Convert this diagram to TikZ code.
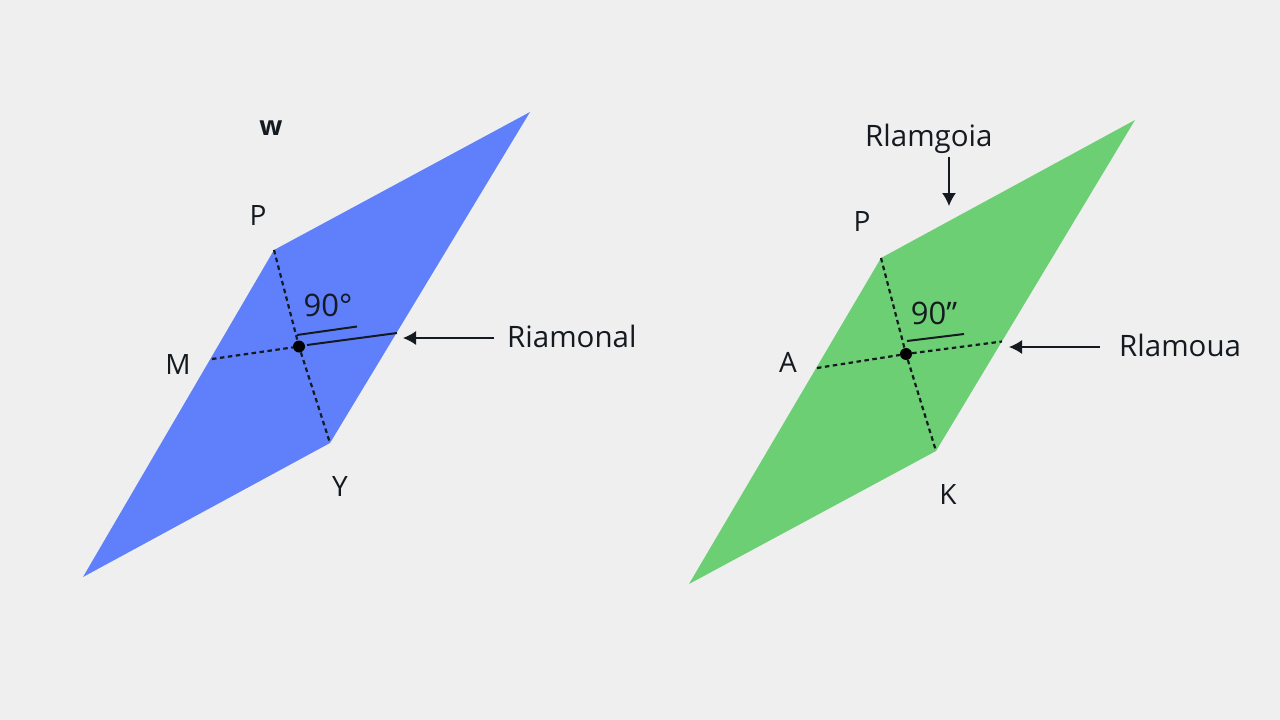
\documentclass[tikz,border=0pt]{standalone}
\usepackage{fontspec}
\setmainfont{Open Sans}
\definecolor{bgc}{HTML}{EFEFEF}
\definecolor{bluef}{HTML}{5F80FA}
\definecolor{greenf}{HTML}{6CCF74}
\definecolor{inkc}{HTML}{151A20}
\usetikzlibrary{arrows.meta}
\tikzset{
  lbl/.style={text=inkc,font=\fontsize{29.5}{32}\selectfont,inner sep=0pt},
  vlbl/.style={text=inkc,font=\fontsize{28}{30}\selectfont,inner sep=0pt},
  ang/.style={text=inkc,font=\fontsize{31}{34}\selectfont,inner sep=0pt},
  diag/.style={draw=inkc,line width=2.2pt,dash pattern=on 4.5pt off 3.5pt},
  solidl/.style={draw=inkc,line width=2pt},
  pointer/.style={draw=inkc,line width=1.4pt,-{Latex[length=13pt,width=14pt]}},
  ctr/.style={circle,fill=black,inner sep=0pt,minimum size=12pt},
}
\begin{document}
\begin{tikzpicture}[x=1pt,y=-1pt]
\useasboundingbox (0,0) rectangle (1280,720);
\fill[bgc] (0,0) rectangle (1280,720);
% blue rhombus
\coordinate (b1) at (530,112);
\coordinate (b2) at (274,250);
\coordinate (b3) at (83,577);
\coordinate (b4) at (330,443);
\fill[bluef] (b1)--(b2)--(b3)--(b4)--cycle;
\node[ctr] (bc) at (299,346.5) {};
\coordinate (bl) at (212,359);
\coordinate (br) at (397,333);
\coordinate (bs) at (307,345);
\coordinate (bt1) at (297,335);
\coordinate (bt2) at (357,326.5);
\coordinate (ba1) at (494,338);
\coordinate (ba2) at (403,338);
\draw[diag] (b2)--(bc)--(b4);
\draw[diag] (bl)--(bc);
\draw[solidl] (bs)--(br);
\draw[solidl] (bt1)--(bt2);
\draw[pointer] (ba1)--(ba2);
\node[vlbl,font=\fontsize{27}{30}\selectfont\bfseries] (w) at (271,128) {w};
\node[vlbl] (bp) at (258,216) {P};
\node[vlbl] (bm) at (178,365) {M};
\node[vlbl] (by) at (340,487) {Y};
\node[ang] (b90) at (328,305) {90°};
\node[lbl,anchor=west] (briam) at (507,336) {Riamonal};
% green rhombus
\coordinate (g1) at (1135,120);
\coordinate (g2) at (881,258);
\coordinate (g3) at (689,584);
\coordinate (g4) at (936,451);
\fill[greenf] (g1)--(g2)--(g3)--(g4)--cycle;
\node[ctr] (gc) at (906,354) {};
\coordinate (gl) at (817,368);
\coordinate (gr) at (1002,341.5);
\coordinate (gt1) at (907,341);
\coordinate (gt2) at (964,334);
\coordinate (ga1) at (1100,347);
\coordinate (ga2) at (1009,347);
\coordinate (gd1) at (949,157);
\coordinate (gd2) at (949,206);
\draw[diag] (g2)--(gc)--(g4);
\draw[diag] (gl)--(gc)--(gr);
\draw[solidl] (gt1)--(gt2);
\draw[pointer] (ga1)--(ga2);
\draw[pointer] (gd1)--(gd2);
\node[vlbl] (gp) at (862,222) {P};
\node[vlbl] (ga) at (788,362) {A};
\node[vlbl] (gk) at (948,495) {K};
\node[ang] (g90) at (934,313) {90"};
\node[lbl,anchor=west] (grl) at (865,139) {Rlamgoia};
\node[lbl,anchor=west] (grm) at (1119,345) {Rlamoua};
\end{tikzpicture}
\end{document}
